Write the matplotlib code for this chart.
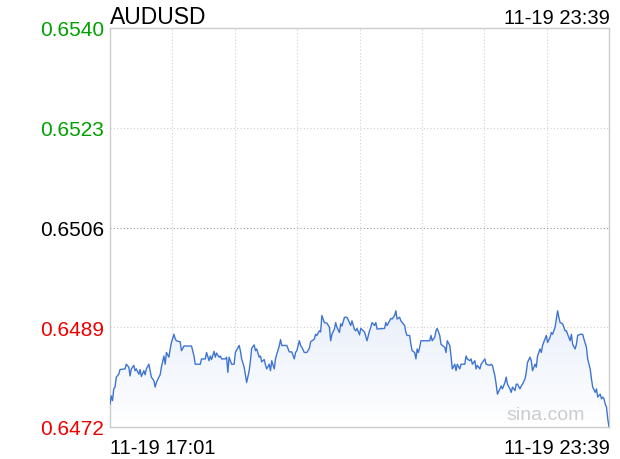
import matplotlib
matplotlib.use("Agg")
import matplotlib.pyplot as plt
import numpy as np

plt.rcParams['font.family'] = ['Liberation Sans', 'DejaVu Sans']

symbol = "AUDUSD"
start_label = "11-19 17:01"
end_label = "11-19 23:39"
prev_close = 0.6506
ytick_vals = [0.6472, 0.6489, 0.6506, 0.6523, 0.6540]

# minutes after 17:01
minutes = [0, 1, 2, 3, 4, 5, 7, 8, 12, 13, 15, 16, 17, 19, 20, 21, 23, 24, 25, 27,
           28, 29, 31, 32, 33, 35, 36, 37, 39, 40, 41, 43, 44, 45, 47, 48, 49, 51, 52, 53,
           56, 57, 59, 65, 67, 68, 72, 73, 76, 77, 79, 80, 81, 83, 84, 85, 87, 88, 89, 92,
           93, 94, 95, 97, 99, 100, 103, 104, 105, 107, 109, 111, 112, 113, 115, 116, 117, 119, 120, 121,
           123, 124, 125, 127, 128, 129, 131, 132, 133, 135, 136, 137, 141, 143, 145, 147, 148, 149, 151, 152,
           153, 155, 157, 159, 160, 163, 164, 165, 167, 168, 169, 171, 173, 175, 176, 177, 179, 180, 181, 183,
           184, 185, 187, 189, 191, 192, 193, 195, 196, 197, 199, 200, 203, 205, 207, 208, 209, 211, 212, 213,
           219, 220, 221, 223, 224, 225, 227, 228, 229, 231, 232, 233, 235, 236, 237, 239, 240, 241, 243, 244,
           245, 246, 247, 248, 255, 256, 257, 259, 260, 261, 263, 264, 265, 267, 268, 269, 271, 272, 273, 275,
           276, 277, 279, 280, 283, 284, 285, 287, 288, 289, 291, 292, 293, 295, 296, 297, 299, 300, 303, 304,
           305, 307, 308, 309, 311, 312, 313, 315, 316, 317, 319, 320, 321, 323, 324, 325, 327, 328, 329, 331,
           332, 333, 335, 336, 337, 339, 340, 341, 343, 344, 345, 347, 348, 349, 351, 352, 353, 355, 356, 357,
           358, 359, 361, 363, 364, 365, 367, 368, 369, 371, 372, 373, 375, 377, 378, 380, 381, 383, 384, 385,
           387, 388, 389, 391, 392, 393, 394, 395, 396, 397, 398]

prices = [0.64759, 0.64773, 0.64765, 0.64785, 0.64788, 0.64805, 0.64810, 0.64818, 0.64819, 0.64827,
          0.64822, 0.64807, 0.64819, 0.64825, 0.64816, 0.64819, 0.64810, 0.64818, 0.64806, 0.64816,
          0.64809, 0.64819, 0.64827, 0.64816, 0.64805, 0.64799, 0.64788, 0.64796, 0.64805, 0.64809,
          0.64822, 0.64841, 0.64827, 0.64847, 0.64839, 0.64853, 0.64864, 0.64878, 0.64870, 0.64867,
          0.64865, 0.64850, 0.64858, 0.64858, 0.64841, 0.64827, 0.64827, 0.64836, 0.64836, 0.64847,
          0.64833, 0.64841, 0.64835, 0.64849, 0.64839, 0.64846, 0.64839, 0.64841, 0.64836, 0.64836,
          0.64839, 0.64813, 0.64839, 0.64827, 0.64827, 0.64847, 0.64859, 0.64850, 0.64836, 0.64822,
          0.64796, 0.64816, 0.64833, 0.64854, 0.64860, 0.64850, 0.64853, 0.64839, 0.64841, 0.64831,
          0.64835, 0.64826, 0.64819, 0.64827, 0.64816, 0.64833, 0.64819, 0.64836, 0.64844, 0.64858,
          0.64869, 0.64859, 0.64859, 0.64848, 0.64848, 0.64836, 0.64847, 0.64850, 0.64867, 0.64859,
          0.64856, 0.64847, 0.64847, 0.64854, 0.64865, 0.64870, 0.64878, 0.64876, 0.64884, 0.64882,
          0.64910, 0.64898, 0.64897, 0.64890, 0.64867, 0.64878, 0.64887, 0.64898, 0.64890, 0.64881,
          0.64896, 0.64892, 0.64907, 0.64907, 0.64898, 0.64893, 0.64901, 0.64886, 0.64884, 0.64888,
          0.64877, 0.64888, 0.64882, 0.64867, 0.64884, 0.64890, 0.64898, 0.64893, 0.64898, 0.64887,
          0.64888, 0.64898, 0.64893, 0.64901, 0.64905, 0.64904, 0.64910, 0.64918, 0.64904, 0.64907,
          0.64901, 0.64898, 0.64893, 0.64881, 0.64876, 0.64876, 0.64861, 0.64850, 0.64847, 0.64836,
          0.64853, 0.64847, 0.64856, 0.64867, 0.64867, 0.64876, 0.64867, 0.64873, 0.64884, 0.64888,
          0.64876, 0.64861, 0.64859, 0.64856, 0.64847, 0.64867, 0.64859, 0.64841, 0.64819, 0.64827,
          0.64816, 0.64827, 0.64819, 0.64827, 0.64827, 0.64841, 0.64836, 0.64833, 0.64836, 0.64827,
          0.64833, 0.64819, 0.64825, 0.64819, 0.64827, 0.64830, 0.64836, 0.64827, 0.64825, 0.64827,
          0.64825, 0.64807, 0.64793, 0.64776, 0.64785, 0.64790, 0.64785, 0.64796, 0.64805, 0.64793,
          0.64785, 0.64779, 0.64788, 0.64782, 0.64793, 0.64793, 0.64785, 0.64790, 0.64793, 0.64802,
          0.64813, 0.64830, 0.64839, 0.64833, 0.64816, 0.64827, 0.64822, 0.64841, 0.64853, 0.64847,
          0.64859, 0.64870, 0.64876, 0.64864, 0.64873, 0.64881, 0.64878, 0.64890, 0.64904, 0.64918,
          0.64907, 0.64898, 0.64896, 0.64884, 0.64884, 0.64878, 0.64867, 0.64878, 0.64861, 0.64853,
          0.64861, 0.64876, 0.64878, 0.64878, 0.64870, 0.64856, 0.64836, 0.64819, 0.64802, 0.64788,
          0.64779, 0.64785, 0.64771, 0.64776, 0.64768, 0.64771, 0.64768, 0.64759, 0.64754, 0.64734,
          0.64720]

x = np.array(minutes)
y = np.array(prices)
ymin, ymax = ytick_vals[0], ytick_vals[-1]
xmax = 398

fig = plt.figure(figsize=(6.2, 4.6), dpi=100)
ax = fig.add_axes([110 / 620, 32 / 460, 499 / 620, 399 / 460])
ax.set_xlim(0, xmax)
ax.set_ylim(ymin, ymax)

# gradient under the line
grad = np.linspace(0, 1, 256).reshape(-1, 1)
cmap = matplotlib.colors.LinearSegmentedColormap.from_list("g", ["#ffffff", "#e9effa"])
img = ax.imshow(grad, extent=[0, xmax, ymin, y.max()], origin='lower',
                aspect='auto', cmap=cmap, zorder=1)
poly = ax.fill_between(x, y, ymin, color='none')
img.set_clip_path(poly.get_paths()[0], transform=ax.transData)

ax.plot(x, y, color='#3f75d2', lw=1.0, zorder=3)

# grid
for k in range(1, 8):
    ax.axvline(xmax * k / 8, color='#d0d0d0', lw=0.8, ls=(0, (1, 2)), zorder=0)
for v in ytick_vals[1:-1]:
    c = '#999999' if v == prev_close else '#d0d0d0'
    ax.axhline(v, color=c, lw=0.8, ls=(0, (1, 2)), zorder=0)

for s in ax.spines.values():
    s.set_color('#cccccc')
    s.set_linewidth(1.0)

ax.set_xticks([])
ax.set_yticks(ytick_vals)
ax.set_yticklabels([f"{v:.4f}" for v in ytick_vals])
ax.tick_params(axis='y', length=0, pad=4, labelsize=15)
for lab, v in zip(ax.get_yticklabels(), ytick_vals):
    if v > prev_close:
        lab.set_color('#00a000')
    elif v < prev_close:
        lab.set_color('#ee0000')
    else:
        lab.set_color('black')

fig.text(110 / 620, 1 - 24 / 460, symbol, fontsize=16.5, ha='left', va='baseline')
fig.text(610 / 620, 1 - 24 / 460, end_label, fontsize=14.5, ha='right', va='baseline')
fig.text(110 / 620, 1 - 454 / 460, start_label, fontsize=14.5, ha='left', va='baseline')
fig.text(610 / 620, 1 - 454 / 460, end_label, fontsize=14.5, ha='right', va='baseline')
fig.text(585 / 620, 1 - 420 / 460, "sina.com", fontsize=14, color='#cccccc',
         ha='right', va='baseline', zorder=5)

fig.savefig("out.png", dpi=100)
